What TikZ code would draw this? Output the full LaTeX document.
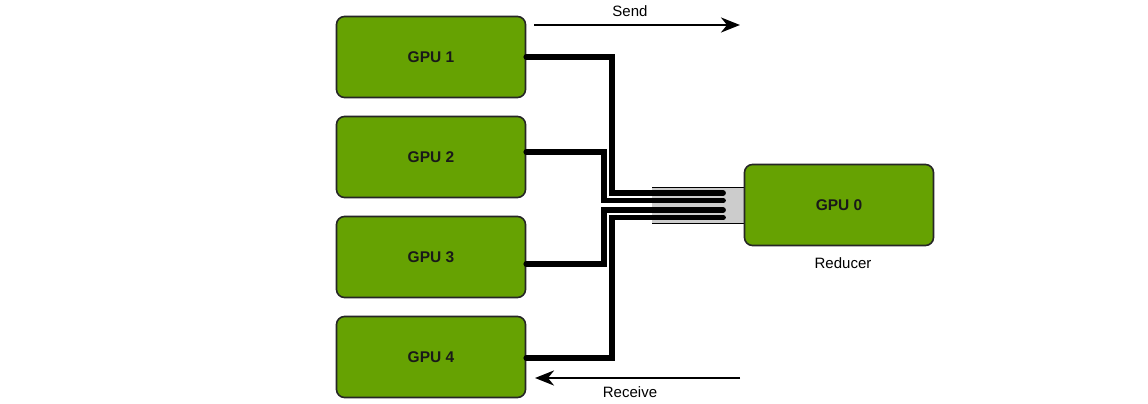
\documentclass[tikz,border=0pt]{standalone}
\usepackage{fontspec}
\setmainfont{Liberation Sans}
\usetikzlibrary{arrows.meta,calc}
\definecolor{gpugreen}{HTML}{66A202}
\definecolor{busgray}{HTML}{CCCCCC}
\tikzset{
  gpu/.style={draw=black!85, line width=1.6pt, fill=gpugreen, rounded corners=8pt,
    minimum width=189pt, minimum height=81pt, inner sep=0pt,
    font=\fontsize{15.5pt}{18pt}\selectfont\bfseries, text=black!90},
  wire/.style={line width=5.8pt, line cap=round, line join=miter},
  flow/.style={line width=2.6pt, -{Stealth[length=19pt,width=15pt,inset=6pt]}},
  lbl/.style={font=\fontsize{15pt}{18pt}\selectfont, inner sep=0pt}
}
\begin{document}
\begin{tikzpicture}[x=1pt,y=-1pt]
\useasboundingbox (0,0) rectangle (1148,404);
% bus
\fill[busgray] (652,187) rectangle (744,223);
\draw[line width=0.8pt] (652,187) -- (744,187) (652,223) -- (744,223);
\node[gpu] (g1) at (431,57) {GPU 1};
\node[gpu] (g2) at (431,157) {GPU 2};
\node[gpu] (g3) at (431,257) {GPU 3};
\node[gpu] (g4) at (431,357) {GPU 4};
\node[gpu] (g0) at (839,205) {GPU 0};
\node[lbl] (red) at (843,263) {Reducer};
\coordinate (e1) at (723,193);
\coordinate (e2) at (723,200.5);
\coordinate (e3) at (723,210);
\coordinate (e4) at (723,217.5);
\draw[wire] (g1.east) -- (612,57) -- (612,193) -- (e1);
\draw[wire] ($(g2.east)+(0,-5)$) -- (604,152) -- (604,200.5) -- (e2);
\draw[wire] ($(g3.east)+(0,7)$) -- (604,264) -- (604,210) -- (e3);
\draw[wire] ($(g4.east)+(0,1)$) -- (612,358) -- (612,217.5) -- (e4);
% send / receive
\coordinate (s0) at (534,25);
\coordinate (s1) at (740,25);
\coordinate (r0) at (740,378);
\coordinate (r1) at (535,378);
\draw[flow] (s0) -- (s1);
\draw[flow] (r0) -- (r1);
\node[lbl] (send) at (630,11) {Send};
\node[lbl] (recv) at (630,392) {Receive};
\end{tikzpicture}
\end{document}
